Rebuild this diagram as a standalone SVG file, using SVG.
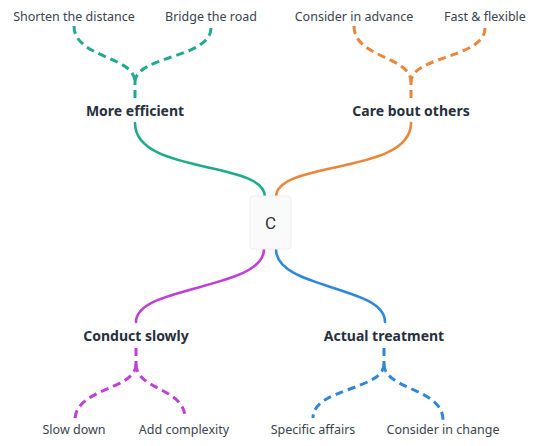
<svg xmlns="http://www.w3.org/2000/svg" width="541" height="446" viewBox="0 0 541 446">
<style>
.lbl{font-family:"Noto Sans","Liberation Sans",sans-serif;font-size:12.5px;fill:#3a4350;text-anchor:middle;dominant-baseline:central}
.main{font-family:"Noto Sans","Liberation Sans",sans-serif;font-size:14px;font-weight:bold;fill:#27303c;text-anchor:middle;dominant-baseline:central}
.solid{fill:none;stroke-width:2.6;stroke-linecap:round}
.dash{fill:none;stroke-width:3;stroke-dasharray:8 5;stroke-linecap:butt}
.teal{stroke:#1faa8f}.orange{stroke:#eb8639}.purple{stroke:#c03fd6}.blue{stroke:#2f87da}
</style>
<rect width="541" height="446" fill="#ffffff"/>
<g id="connectors">
<path class="solid teal" d="M135,123 C135,175 265,160 265,197"/>
<path class="solid orange" d="M411,123 C411,175 276,160 276,197"/>
<path class="solid purple" d="M264,249 C264,290 136,285 136,322"/>
<path class="solid blue" d="M276,249 C276,290 385,285 385,322"/>
<path class="dash teal" d="M135,98 L135,82"/>
<path class="dash teal" d="M74,26 C74,58 135,56 135,82"/>
<path class="dash teal" d="M211,28 C211,58 135,56 135,82"/>
<path class="dash orange" d="M411,98 L411,82"/>
<path class="dash orange" d="M354,26 C354,58 411,56 411,82"/>
<path class="dash orange" d="M485,28 C485,58 411,56 411,82"/>
<path class="dash purple" d="M136,348 L136,364"/>
<path class="dash purple" d="M136,364 C136,390 75,388 75,420"/>
<path class="dash purple" d="M136,364 C136,390 185,388 185,418"/>
<path class="dash blue" d="M384,348 L384,364"/>
<path class="dash blue" d="M384,364 C384,390 313,388 313,418"/>
<path class="dash blue" d="M384,364 C384,390 443,388 443,420"/>
</g>
<g id="node-c">
<rect x="250" y="196" width="41" height="53" rx="3" fill="#fafafa" stroke="#eeeeee" stroke-width="1"/>
<text x="270.5" y="223" font-family="Roboto,'Noto Sans',sans-serif" font-size="17" fill="#2a3340" text-anchor="middle" dominant-baseline="central">C</text>
</g>
<g id="node-more-efficient"><text class="main" x="135" y="110">More efficient</text></g>
<g id="node-care-bout-others"><text class="main" x="411" y="110">Care bout others</text></g>
<g id="node-conduct-slowly"><text class="main" x="136" y="335">Conduct slowly</text></g>
<g id="node-actual-treatment"><text class="main" x="384" y="335">Actual treatment</text></g>
<g id="node-shorten"><text class="lbl" x="74" y="16">Shorten the distance</text></g>
<g id="node-bridge"><text class="lbl" x="211" y="16">Bridge the road</text></g>
<g id="node-consider-advance"><text class="lbl" x="354" y="16">Consider in advance</text></g>
<g id="node-fast"><text class="lbl" x="485" y="16">Fast &amp; flexible</text></g>
<g id="node-slow-down"><text class="lbl" x="74" y="429">Slow down</text></g>
<g id="node-add-complexity"><text class="lbl" x="184" y="429">Add complexity</text></g>
<g id="node-specific"><text class="lbl" x="313" y="429">Specific affairs</text></g>
<g id="node-consider-change"><text class="lbl" x="443" y="429">Consider in change</text></g>
</svg>
